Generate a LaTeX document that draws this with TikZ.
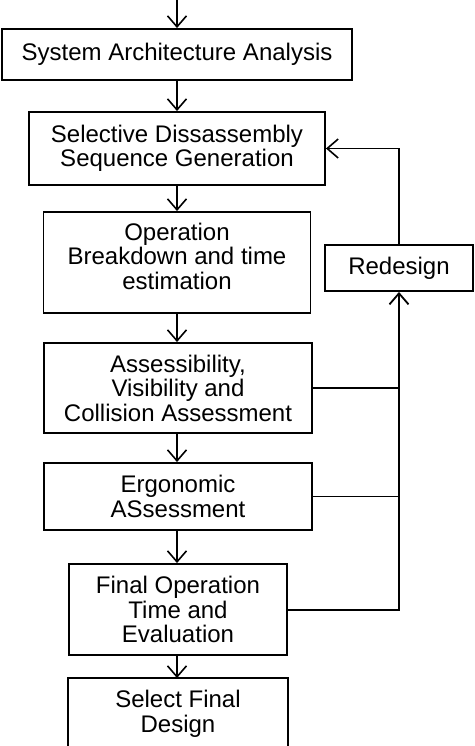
\documentclass[tikz,border=0pt]{standalone}
\usepackage{fontspec}
\setmainfont{Liberation Sans}
\usetikzlibrary{arrows.meta}
\begin{document}
\begin{tikzpicture}[x=1pt,y=-1pt,
  box/.style={draw, line width=1.9pt, align=center, inner sep=0pt,
    font=\fontsize{24}{24.5}\selectfont},
  txt/.style={align=center, inner sep=0pt, font=\fontsize{24}{24.5}\selectfont},
  arr/.style={line width=1.6pt, -{Straight Barb[length=11pt,width=19pt,line width=1.6pt]}},
  ln/.style={line width=1.5pt}]
\useasboundingbox (0,0) rectangle (474,746);
\coordinate (start) at (177,0);
\node[box, minimum width=350, minimum height=51] (b1) at (177,54.5) {System Architecture Analysis};
\node[box, minimum width=296, minimum height=73] (b2) at (177,148.5) {Selective Dissassembly\\Sequence Generation};
\node[box, minimum width=267, minimum height=101] (b3) at (177,262.5) {};
\node[txt] (b3t) at (177,256) {Operation\\Breakdown and time\\estimation};
\node[box, minimum width=268, minimum height=90] (b4) at (178,388) {Assessibility,\\Visibility and\\Collision Assessment};
\node[box, minimum width=268, minimum height=67] (b5) at (178,496.5) {Ergonomic\\ASsessment};
\node[box, minimum width=218, minimum height=91] (b6) at (178,609.5) {Final Operation\\Time and\\Evaluation};
\node[box, draw=none, minimum width=218, minimum height=70] (b7) at (178,714) {Select Final\\Design};
\draw[line width=1.9pt] (b7.south west) -- (b7.north west) -- (b7.north east) -- (b7.south east);
\node[box, minimum width=148, minimum height=46] (rd) at (399,268) {Redesign};
\coordinate (j4) at (b4.east -| rd.south);
\draw[arr] (start) -- (b1.north -| start);
\draw[arr] (b1.south -| start) -- (b2.north -| start);
\draw[arr] (b2.south -| start) -- (b3.north -| start);
\draw[arr] (b3.south -| start) -- (b4.north -| start);
\draw[arr] (b4.south -| start) -- (b5.north -| start);
\draw[arr] (b5.south -| start) -- (b6.north -| start);
\draw[arr] (b6.south -| start) -- (b7.north -| start);
\draw[arr] (rd.north) |- (b2.east);
\draw[line width=2pt] (b6.east) -| (j4);
\draw[ln] (b5.east) -- (b5.east -| rd.south);
\draw[ln] (b4.east) -- (j4);
\draw[line width=2.8pt, -{Straight Barb[length=11pt,width=19pt,line width=1.8pt]}] (j4) -- (rd.south);
\end{tikzpicture}
\end{document}
